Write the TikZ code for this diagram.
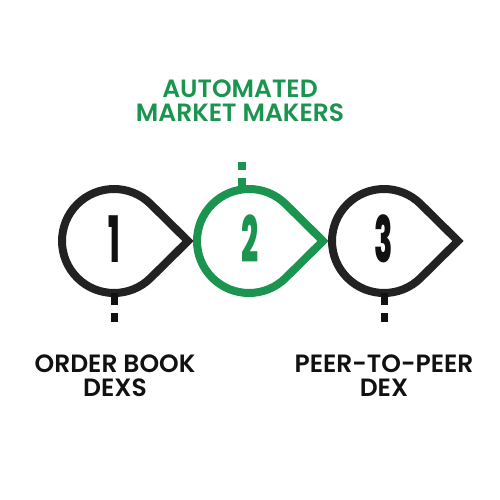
\documentclass[tikz,border=0pt]{standalone}
\usepackage{fontspec}
\newfontfamily\popsemi{Poppins SemiBold}
\newfontfamily\popheavy{Poppins ExtraBold}
\definecolor{ammgreen}{HTML}{1B9450}
\definecolor{inkdark}{HTML}{222222}
\definecolor{txtdark}{HTML}{111111}
\begin{document}
\begin{tikzpicture}[x=1pt,y=1pt,
  drop/.style={line width=8pt, miter limit=10, line join=miter},
  dashline/.style={line width=7.5pt, line cap=butt},
  lbl/.style={font=\popsemi\fontsize{25}{25}\selectfont, anchor=base, inner sep=0pt},
  digit/.style={font=\popheavy\fontsize{64}{64}\selectfont, anchor=base, inner sep=0pt}]
\useasboundingbox (0,0) rectangle (500,-500);
% teardrops
\draw[drop, inkdark] (188,-241) -- (150.45,-203.91) arc[start angle=45.5, end angle=314.5, radius=52] -- cycle;
\draw[drop, ammgreen] (323,-241) -- (285.45,-203.91) arc[start angle=45.5, end angle=314.5, radius=52] -- cycle;
\draw[drop, inkdark] (458,-241) -- (420.45,-203.91) arc[start angle=45.5, end angle=314.5, radius=52] -- cycle;
% digits
\node[digit, text=txtdark] (d1) at (114.5,-262) {\scalebox{0.47}[1]{1}};
\node[digit, text=ammgreen] (d2) at (250,-262) {\scalebox{0.47}[1]{2}};
\node[digit, text=txtdark] (d3) at (384,-262) {\scalebox{0.47}[1]{3}};
% dashed ticks
\coordinate (t1a) at (114.5,-293); \coordinate (t1b) at (114.5,-322);
\coordinate (t2a) at (242,-189); \coordinate (t2b) at (242,-162);
\coordinate (t3a) at (384.5,-293); \coordinate (t3b) at (384.5,-322);
\draw[dashline, txtdark, dash pattern=on 12pt off 8pt] (t1a) -- (t1b);
\draw[dashline, ammgreen, dash pattern=on 11pt off 8pt] (t2a) -- (t2b);
\draw[dashline, txtdark, dash pattern=on 12pt off 8pt] (t3a) -- (t3b);
% labels
\node[lbl, text=ammgreen] (amm1) at (240,-98) {AUTOMATED};
\node[lbl, text=ammgreen] (amm2) at (240,-121.5) {MARKET MAKERS};
\node[lbl, text=txtdark] (ob1) at (115,-372) {ORDER BOOK};
\node[lbl, text=txtdark] (ob2) at (115,-396) {DEXS};
\node[lbl, text=txtdark] (pp1) at (384,-372) {PEER-TO-PEER};
\node[lbl, text=txtdark] (pp2) at (384,-396) {DEX};
\end{tikzpicture}
\end{document}
